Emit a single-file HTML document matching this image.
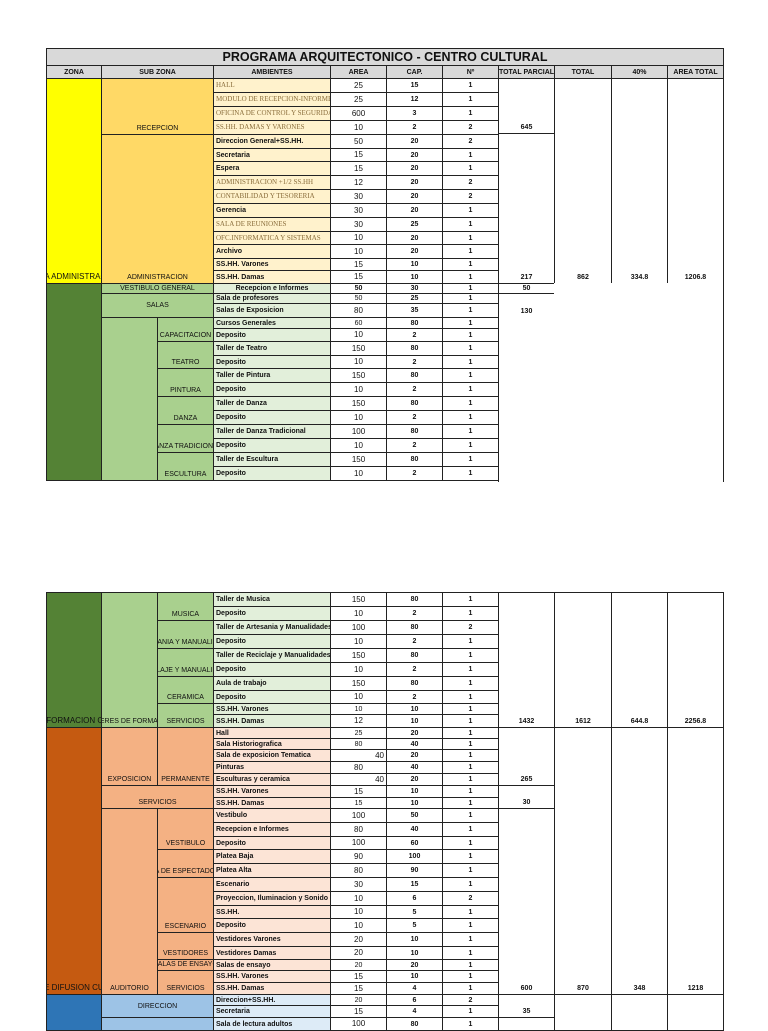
<!DOCTYPE html>
<html><head><meta charset="utf-8">
<style>
body{margin:0;width:768px;height:1024px;background:#fff;position:relative;overflow:hidden;font-family:"Liberation Sans Narrow","Liberation Sans",sans-serif;}
.c{position:absolute;box-sizing:border-box;font-size:7px;font-weight:bold;color:#111;overflow:hidden;white-space:nowrap;line-height:1;display:flex;align-items:center;}
.b{border:1px solid #222;}
.ctr{justify-content:center;}
.bot{align-items:flex-end;padding-bottom:2px;}
.sf{font-family:"Liberation Serif",serif;font-weight:normal;color:#8a6d3b;font-size:7px;}
</style></head><body>
<div id="r"></div>
<script>
var R=document.getElementById('r'),h='';
function box(x0,y0,x1,y1,bg,txt,cls,st){h+='<div class="c '+(cls||'')+'" style="left:'+x0+'px;top:'+y0+'px;width:'+(x1-x0+1)+'px;height:'+(y1-y0+1)+'px;background:'+(bg||'transparent')+';'+(st||'')+'">'+(txt||'')+'</div>';}
var X={z:46,s:101,ss:157,a:213,ar:330,cp:386,n:442,tp:498,t:554,p:611,at:667,e:723};
box(46,48,723,65,'#d9d9d9','PROGRAMA ARQUITECTONICO - CENTRO CULTURAL','b ctr','font-family:\'Liberation Sans\',sans-serif;font-size:12.5px;');
var hd=[['ZONA',X.z,X.s],['SUB ZONA',X.s,X.a],['AMBIENTES',X.a,X.ar],['AREA',X.ar,X.cp],['CAP.',X.cp,X.n],['Nº',X.n,X.tp],['TOTAL PARCIAL',X.tp,X.t],['TOTAL',X.t,X.p],['40%',X.p,X.at],['AREA TOTAL',X.at,X.e]];
hd.forEach(function(a){box(a[1],65,a[2],78,'#d9d9d9',a[0],'b ctr');});
function rows(list,bg){list.forEach(function(r){
 var serif=r[5];
 box(X.a,r[0],X.ar,r[1],bg,r[2],'b'+(serif?' sf':''),'padding-left:2px;');
 box(X.ar,r[0],X.cp,r[1],'#fff',r[3],'b ctr',(r[6]?'justify-content:flex-end;padding-right:2px;':'')+'font-size:'+(r[1]-r[0]>11?8:7)+'px;font-weight:normal;');
 box(X.cp,r[0],X.n,r[1],'#fff',r[4][0],'b ctr');
 box(X.n,r[0],X.tp,r[1],'#fff',r[4][1],'b ctr');
});}
function sub(s,bg){box(X.ss,s[0],X.a,s[1],bg,s[2],'b ctr bot','font-weight:normal;');}
box(X.z,78,X.s,283,'#ffff00','ZONA ADMINISTRACION','b ctr bot','font-size:8px;font-weight:normal;');
box(X.s,78,X.a,134,'#ffd966','RECEPCION','b ctr bot','font-weight:normal;');
box(X.s,134,X.a,283,'#ffd966','ADMINISTRACION','b ctr bot','font-weight:normal;');
var C='#fff2cc';
rows([[78,92,'HALL',25,['15','1'],1],[92,106,'MODULO DE RECEPCION-INFORMES',25,['12','1'],1],[106,120,'OFICINA DE CONTROL Y SEGURIDAD',600,['3','1'],1],[120,134,'SS.HH. DAMAS Y VARONES',10,['2','2'],1],
[134,148,'Direccion General+SS.HH.',50,['20','2']],[148,161,'Secretaria',15,['20','1']],[161,175,'Espera',15,['20','1']],[175,189,'ADMINISTRACION +1/2 SS.HH',12,['20','2'],1],[189,203,'CONTABILIDAD Y TESORERIA',30,['20','2'],1],[203,217,'Gerencia',30,['20','1']],[217,231,'SALA DE REUNIONES',30,['25','1'],1],[231,244,'OFC.INFORMATICA Y SISTEMAS',10,['20','1'],1],[244,258,'Archivo',10,['20','1']],[258,270,'SS.HH. Varones',15,['10','1']],[270,283,'SS.HH. Damas',15,['10','1']]],C);
box(X.tp,78,X.t,133,'#fff','645','b ctr bot');
box(X.tp,133,X.t,283,'#fff','217','b ctr bot');
box(X.t,78,X.p,283,'#fff','862','b ctr bot');
box(X.p,78,X.at,283,'#fff','334.8','b ctr bot');
box(X.at,78,X.e,283,'#fff','1206.8','b ctr bot');
var G='#e2efda',GM='#a9d08e';
box(X.z,283,X.s,480,'#548235','','b');
box(X.s,283,X.a,293,GM,'VESTIBULO GENERAL','b ctr','font-weight:normal;');
box(X.s,293,X.a,317,GM,'SALAS','b ctr','font-weight:normal;');
box(X.s,317,X.ss,480,GM,'','b');
[[317,341,'CAPACITACION'],[341,368,'TEATRO'],[368,396,'PINTURA'],[396,424,'DANZA'],[424,452,'DANZA TRADICIONAL'],[452,480,'ESCULTURA']].forEach(function(s){sub(s,GM);});
box(X.a,283,X.ar,293,G,'Recepcion e Informes','b ctr');
rows([[293,303,'Sala de profesores',50,['25','1']],[303,317,'Salas de Exposicion',80,['35','1']],[317,328,'Cursos Generales',60,['80','1']],[328,341,'Deposito',10,['2','1']],[341,355,'Taller de Teatro',150,['80','1']],[355,368,'Deposito',10,['2','1']],[368,382,'Taller de Pintura',150,['80','1']],[382,396,'Deposito',10,['2','1']],[396,410,'Taller de Danza',150,['80','1']],[410,424,'Deposito',10,['2','1']],[424,438,'Taller de Danza Tradicional',100,['80','1']],[438,452,'Deposito',10,['2','1']],[452,466,'Taller de Escultura',150,['80','1']],[466,480,'Deposito',10,['2','1']]],G);
box(X.ar,283,X.cp,293,'#fff','50','b ctr');box(X.cp,283,X.n,293,'#fff','30','b ctr');box(X.n,283,X.tp,293,'#fff','1','b ctr');
box(X.tp,283,X.t,293,'#fff','50','b ctr');
box(X.tp,293,X.t,317,'#fff','130','b ctr bot');
box(X.tp,317,X.t,481,'#fff','','','border-left:1px solid #222;border-right:1px solid #222;');
box(X.t,283,X.p,481,'#fff','','','border-right:1px solid #222;');
box(X.p,283,X.at,481,'#fff','','','border-right:1px solid #222;');
box(X.at,283,X.e,481,'#fff','','','border-right:1px solid #222;');
box(X.z,592,X.s,727,'#548235','ZONA DE FORMACION CULTURAL','b ctr bot','font-size:8px;font-weight:normal;');
box(X.s,592,X.ss,727,GM,'TALLERES DE FORMACION','b ctr bot','font-weight:normal;');
[[592,620,'MUSICA'],[620,648,'ARTESANIA Y MANUALIDADES'],[648,676,'RECICLAJE Y MANUALIDADES'],[676,703,'CERAMICA'],[703,727,'SERVICIOS']].forEach(function(s){sub(s,GM);});
rows([[592,606,'Taller de Musica',150,['80','1']],[606,620,'Deposito',10,['2','1']],[620,634,'Taller de Artesania y Manualidades',100,['80','2']],[634,648,'Deposito',10,['2','1']],[648,662,'Taller de Reciclaje y Manualidades',150,['80','1']],[662,676,'Deposito',10,['2','1']],[676,690,'Aula de trabajo',150,['80','1']],[690,703,'Deposito',10,['2','1']],[703,714,'SS.HH. Varones',10,['10','1']],[714,727,'SS.HH. Damas',12,['10','1']]],G);
box(X.tp,592,X.t,727,'#fff','1432','b ctr bot');box(X.t,592,X.p,727,'#fff','1612','b ctr bot');box(X.p,592,X.at,727,'#fff','644.8','b ctr bot');box(X.at,592,X.e,727,'#fff','2256.8','b ctr bot');
var O='#fce4d6',OM='#f4b183';
box(X.z,727,X.s,994,'#c55a11','ZONA DE DIFUSION CULTURAL','b ctr bot','font-size:8px;font-weight:normal;');
box(X.s,727,X.ss,785,OM,'EXPOSICION','b ctr bot','font-weight:normal;');
box(X.ss,727,X.a,785,OM,'PERMANENTE','b ctr bot','font-weight:normal;');
box(X.s,785,X.a,808,OM,'SERVICIOS','b ctr bot','font-weight:normal;');
box(X.s,808,X.ss,994,OM,'AUDITORIO','b ctr bot','font-weight:normal;');
[[808,849,'VESTIBULO'],[849,877,'SALA DE ESPECTADORES'],[877,932,'ESCENARIO'],[932,959,'VESTIDORES'],[959,970,'SALAS DE ENSAYO'],[970,994,'SERVICIOS']].forEach(function(s){sub(s,OM);});
rows([[727,738,'Hall',25,['20','1']],[738,749,'Sala Historiografica',80,['40','1']],[749,761,'Sala de exposicion Tematica',40,['20','1'],0,1],[761,773,'Pinturas',80,['40','1']],[773,785,'Esculturas y ceramica',40,['20','1'],0,1],[785,797,'SS.HH. Varones',15,['10','1']],[797,808,'SS.HH. Damas',15,['10','1']],
[808,822,'Vestibulo',100,['50','1']],[822,836,'Recepcion e Informes',80,['40','1']],[836,849,'Deposito',100,['60','1']],[849,863,'Platea Baja',90,['100','1']],[863,877,'Platea Alta',80,['90','1']],[877,891,'Escenario',30,['15','1']],[891,905,'Proyeccion, Iluminacion y Sonido',10,['6','2']],[905,918,'SS.HH.',10,['5','1']],[918,932,'Deposito',10,['5','1']],[932,946,'Vestidores Varones',20,['10','1']],[946,959,'Vestidores Damas',20,['10','1']],[959,970,'Salas de ensayo',20,['20','1']],[970,982,'SS.HH. Varones',15,['10','1']],[982,994,'SS.HH. Damas',15,['4','1']]],O);
box(X.tp,727,X.t,785,'#fff','265','b ctr bot');box(X.tp,785,X.t,808,'#fff','30','b ctr bot');box(X.tp,808,X.t,994,'#fff','600','b ctr bot');
box(X.t,727,X.p,994,'#fff','870','b ctr bot');box(X.p,727,X.at,994,'#fff','348','b ctr bot');box(X.at,727,X.e,994,'#fff','1218','b ctr bot');
var B='#ddebf7',BM='#9dc3e6';
box(X.z,994,X.s,1030,'#2e75b6','','b');
box(X.s,994,X.a,1017,BM,'DIRECCION','b ctr','font-weight:normal;');
box(X.s,1017,X.a,1030,BM,'','b');
rows([[994,1005,'Direccion+SS.HH.',20,['6','2']],[1005,1017,'Secretaria',15,['4','1']],[1017,1030,'Sala de lectura adultos',100,['80','1']]],B);
box(X.tp,994,X.t,1017,'#fff','35','b ctr bot');box(X.tp,1017,X.t,1030,'#fff','','b');
box(X.t,994,X.p,1030,'#fff','','b');box(X.p,994,X.at,1030,'#fff','','b');box(X.at,994,X.e,1030,'#fff','','b');
R.innerHTML=h;
</script>
</body></html>
